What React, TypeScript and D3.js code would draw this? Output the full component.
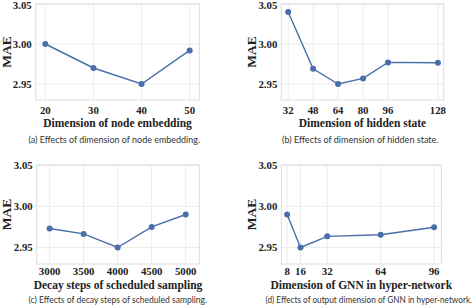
import * as d3 from 'd3'

// Sensitivity results: MAE for each hyper-parameter sweep
const EMBED_DIMS = [20, 30, 40, 50]
const EMBED_MAE = [3.0, 2.97, 2.95, 2.992]

const HIDDEN_DIMS = [32, 48, 64, 80, 96, 128]
const HIDDEN_MAE = [3.04, 2.969, 2.95, 2.957, 2.977, 2.9765]

const DECAY_STEPS = [3000, 3500, 4000, 4500, 5000]
const DECAY_MAE = [2.973, 2.9665, 2.95, 2.975, 2.99]

const GNN_DIMS = [8, 16, 32, 64, 96]
const GNN_MAE = [2.99, 2.95, 2.9635, 2.9655, 2.9745]

const Y_TICKS = [2.95, 3.0, 3.05]

const LINE_COLOR = '#4a6ea9'
const GRID_COLOR = '#ececec'
const FRAME_COLOR = '#dcdcdc'
const SERIF = "'Liberation Serif', 'DejaVu Serif', serif"
const SANS = "Lato, 'Open Sans', sans-serif"

const serifStyle = { fontFamily: SERIF, fontWeight: 700 }
const sansStyle = { fontFamily: SANS }

type PanelProps = {
  xs: number[]
  ys: number[]
  xDomain: [number, number]
  box: { left: number; right: number; top: number; bottom: number }
  offsets: [number, number, number] // tick labels, axis title, caption below the frame
  xLabel: string
  caption: string
  captionSpan: [number, number] // left/right edge of the caption line
  maeX: number
}

const Panel = ({ xs, ys, xDomain, box, offsets, xLabel, caption, captionSpan, maeX }: PanelProps) => {
  const x = d3.scaleLinear().domain(xDomain).range([box.left, box.right])
  const y = d3.scaleLinear().domain([2.93, 3.05]).range([box.bottom, box.top])
  const points = xs.map((v, i) => [x(v), y(ys[i])] as [number, number])
  const line = d3.line()(points) || ''
  const midX = (box.left + box.right) / 2
  const midY = (box.top + box.bottom) / 2

  return (
    <g>
      {/* grid */}
      {xs.map(v => (
        <line key={'gx' + v} x1={x(v)} x2={x(v)} y1={box.top} y2={box.bottom}
          stroke={GRID_COLOR} strokeWidth={1} />
      ))}
      {Y_TICKS.map(t => (
        <line key={'gy' + t} x1={box.left} x2={box.right} y1={y(t)} y2={y(t)}
          stroke={GRID_COLOR} strokeWidth={1} />
      ))}
      <rect x={box.left} y={box.top} width={box.right - box.left} height={box.bottom - box.top}
        fill="none" stroke={FRAME_COLOR} strokeWidth={1} />

      {/* series */}
      <path d={line} fill="none" stroke={LINE_COLOR} strokeWidth={1.4} />
      {points.map((p, i) => (
        <circle key={i} cx={p[0]} cy={p[1]} r={3} fill={LINE_COLOR} />
      ))}

      {/* y ticks */}
      {Y_TICKS.map(t => (
        <text key={'ty' + t} x={box.left - 4} y={Math.max(y(t), 5)} dy="0.35em" textAnchor="end"
          style={serifStyle} fontSize={10.8} fill="#222">
          {t.toFixed(2)}
        </text>
      ))}
      <text transform={`translate(${maeX},${midY}) rotate(-90)`} dy="0.35em" textAnchor="middle"
        style={serifStyle} fontSize={13.5} fill="#222">
        MAE
      </text>

      {/* x ticks */}
      {xs.map(v => (
        <text key={'tx' + v} x={x(v)} y={box.bottom + offsets[0]} dy="0.35em" textAnchor="middle"
          style={serifStyle} fontSize={10.8} fill="#222">
          {v}
        </text>
      ))}
      <text x={midX} y={box.bottom + offsets[1]} dy="0.35em" textAnchor="middle"
        style={serifStyle} fontSize={11.5} fill="#222">
        {xLabel}
      </text>

      <text x={captionSpan[0]} y={box.bottom + offsets[2]} dy="0.35em"
        textLength={captionSpan[1] - captionSpan[0]} lengthAdjust="spacingAndGlyphs"
        style={sansStyle} fontSize={9.6} fill="#333">
        {caption}
      </text>
    </g>
  )
}

export default function App() {
  return (
    <svg width={474} height={307} style={{ position: 'absolute', left: 0, top: 0, background: '#fff' }}>
      <rect width={474} height={307} fill="#fff" />
      <Panel xs={EMBED_DIMS} ys={EMBED_MAE} xDomain={[18, 52]}
        box={{ left: 35.7, right: 199.3, top: 4, bottom: 100 }} offsets={[10, 22.5, 40]}
        xLabel="Dimension of node embedding"
        caption="(a) Effects of dimension of node embedding."
        captionSpan={[28.5, 200]} maeX={6} />
      <Panel xs={HIDDEN_DIMS} ys={HIDDEN_MAE} xDomain={[27.6, 131.7]}
        box={{ left: 281.3, right: 443.7, top: 4, bottom: 100 }} offsets={[10, 22.5, 40]}
        xLabel="Dimension of hidden state"
        caption="(b) Effects of dimension of hidden state."
        captionSpan={[282, 438.5]} maeX={251} />
      <Panel xs={DECAY_STEPS} ys={DECAY_MAE} xDomain={[2810, 5200]}
        box={{ left: 36.7, right: 199.3, top: 165, bottom: 264 }} offsets={[7.5, 20.5, 36]}
        xLabel="Decay steps of scheduled sampling"
        caption="(c) Effects of decay steps of scheduled sampling."
        captionSpan={[28.5, 207]} maeX={6} />
      <Panel xs={GNN_DIMS} ys={GNN_MAE} xDomain={[4.5, 100.3]}
        box={{ left: 281.3, right: 441.3, top: 165, bottom: 264 }} offsets={[7.5, 20.5, 36]}
        xLabel="Dimension of GNN in hyper-network"
        caption="(d) Effects of output dimension of GNN in hyper-network."
        captionSpan={[265.5, 472]} maeX={251} />
    </svg>
  )
}
